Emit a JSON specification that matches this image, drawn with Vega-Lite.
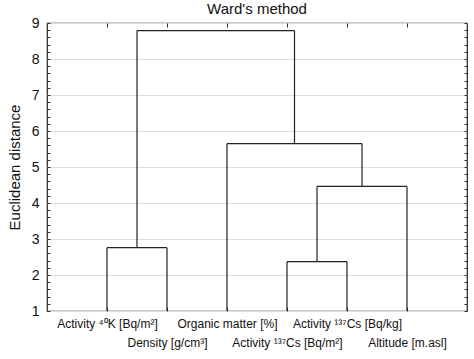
{
  "$schema": "https://vega.github.io/schema/vega-lite/v6.json",
  "width": 420,
  "height": 288,
  "autosize": {"type": "none"},
  "padding": {"left": 47, "top": 23, "right": 7, "bottom": 48},
  "title": {"text": "Ward's method", "fontSize": 15, "font": "Liberation Sans", "fontWeight": "normal", "offset": 8, "dy": 9, "color": "#111"},
  "config": {
    "view": {"stroke": "#222", "strokeWidth": 1.2},
    "font": "Liberation Sans",
    "axis": {"domain": false, "labelFont": "Liberation Sans", "titleFont": "Liberation Sans", "labelColor": "#111", "titleColor": "#111", "tickColor": "#333", "grid": false, "labelOverlap": false, "labelFlush": false, "labelBound": false}
  },
  "data": {
    "values": [
      {"x": 1, "x2": 1, "y": 1, "y2": 2.76},
      {"x": 2, "x2": 2, "y": 1, "y2": 2.76},
      {"x": 4, "x2": 4, "y": 1, "y2": 2.37},
      {"x": 5, "x2": 5, "y": 1, "y2": 2.37},
      {"x": 4.5, "x2": 4.5, "y": 2.37, "y2": 4.46},
      {"x": 6, "x2": 6, "y": 1, "y2": 4.46},
      {"x": 3, "x2": 3, "y": 1, "y2": 5.65},
      {"x": 5.25, "x2": 5.25, "y": 4.46, "y2": 5.65},
      {"x": 1.5, "x2": 1.5, "y": 2.76, "y2": 8.79},
      {"x": 4.125, "x2": 4.125, "y": 5.65, "y2": 8.79},
      {"x": 1, "x2": 2, "y": 2.76, "y2": 2.76},
      {"x": 4, "x2": 5, "y": 2.37, "y2": 2.37},
      {"x": 4.5, "x2": 6, "y": 4.46, "y2": 4.46},
      {"x": 3, "x2": 5.25, "y": 5.65, "y2": 5.65},
      {"x": 1.5, "x2": 4.125, "y": 8.79, "y2": 8.79}
    ]
  },
  "layer": [
    {
      "transform": [{"filter": "datum.x == datum.x2"}],
      "mark": {"type": "rule", "color": "#222", "strokeWidth": 1.2},
      "encoding": {
        "x": {"field": "x", "type": "quantitative", "scale": {"domain": [0, 7], "nice": false, "zero": false},
          "axis": {"orient": "bottom", "title": null, "values": [1, 2, 3, 4, 5, 6], "tickSize": -4, "labelFontSize": 12, "labelPadding": 11, "labelLineHeight": 19, "labelBaseline": "top",
            "labelExpr": "datum.value == 1 ? 'Activity ⁴⁰K [Bq/m²]' : datum.value == 2 ? ['', 'Density [g/cm³]'] : datum.value == 3 ? 'Organic matter [%]' : datum.value == 4 ? ['', 'Activity ¹³⁷Cs [Bq/m²]'] : datum.value == 5 ? 'Activity ¹³⁷Cs [Bq/kg]' : ['', 'Altitude [m.asl]']"}},
        "x2": {"field": "x2"},
        "y": {"field": "y", "type": "quantitative", "scale": {"domain": [1, 9], "nice": false, "zero": false},
          "axis": {"orient": "left", "title": "Euclidean distance", "titleFontSize": 15, "titleFontWeight": "normal", "titlePadding": 9, "labelFontSize": 14, "labelPadding": 11, "tickSize": -3,
            "values": [1, 1.2, 1.4, 1.6, 1.8, 2, 2.2, 2.4, 2.6, 2.8, 3, 3.2, 3.4, 3.6, 3.8, 4, 4.2, 4.4, 4.6, 4.8, 5, 5.2, 5.4, 5.6, 5.8, 6, 6.2, 6.4, 6.6, 6.8, 7, 7.2, 7.4, 7.6, 7.8, 8, 8.2, 8.4, 8.6, 8.8, 9],
            "labelExpr": "abs(datum.value - round(datum.value)) < 0.001 ? format(round(datum.value), 'd') : ''",
            "grid": true, "gridColor": "#dcdcdc", "gridWidth": 1,
            "gridOpacity": {"condition": {"test": "abs(datum.value - round(datum.value)) < 0.001", "value": 1}, "value": 0}}},
        "y2": {"field": "y2"}
      }
    },
    {
      "transform": [{"filter": "datum.x != datum.x2"}],
      "mark": {"type": "rule", "color": "#222", "strokeWidth": 1.2},
      "encoding": {
        "x": {"field": "x", "type": "quantitative", "scale": {"domain": [0, 7], "nice": false, "zero": false},
          "axis": {"orient": "top", "title": null, "values": [1, 2, 3, 4, 5, 6], "tickSize": -4, "labels": false}},
        "x2": {"field": "x2"},
        "y": {"field": "y", "type": "quantitative", "scale": {"domain": [1, 9], "nice": false, "zero": false},
          "axis": {"orient": "right", "title": null, "labels": false, "tickSize": -3,
            "values": [1, 1.2, 1.4, 1.6, 1.8, 2, 2.2, 2.4, 2.6, 2.8, 3, 3.2, 3.4, 3.6, 3.8, 4, 4.2, 4.4, 4.6, 4.8, 5, 5.2, 5.4, 5.6, 5.8, 6, 6.2, 6.4, 6.6, 6.8, 7, 7.2, 7.4, 7.6, 7.8, 8, 8.2, 8.4, 8.6, 8.8, 9]}},
        "y2": {"field": "y2"}
      }
    }
  ],
  "resolve": {"scale": {"x": "independent", "y": "independent"}}
}
